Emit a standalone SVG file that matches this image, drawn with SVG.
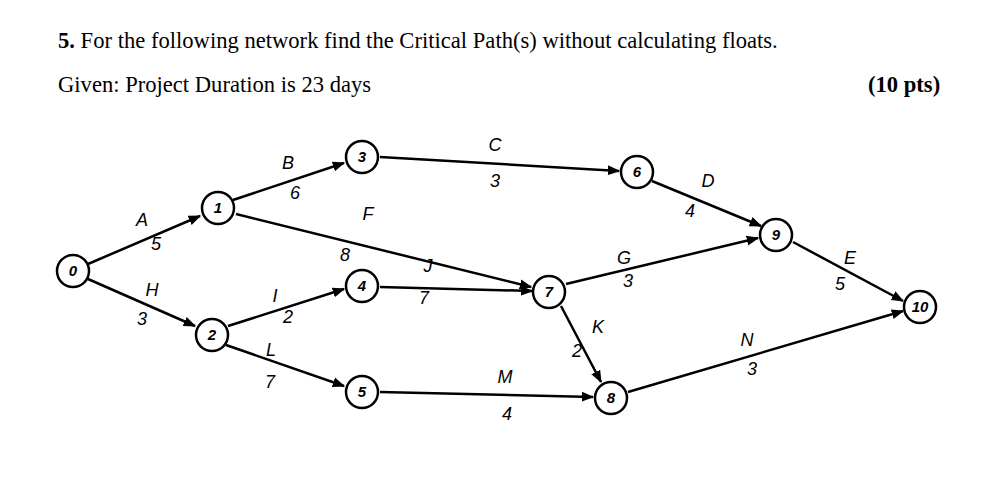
<svg xmlns="http://www.w3.org/2000/svg" width="1005" height="485" viewBox="0 0 1005 485">
<style>
.t{font-family:"Liberation Serif",serif;font-size:22.6px;fill:#000}
.n circle{fill:#fff;stroke:#000;stroke-width:2.5}
.n text{font-family:"Liberation Sans",sans-serif;font-size:15px;font-weight:bold;text-anchor:middle;font-style:italic}
.l{font-family:"Liberation Sans",sans-serif;font-size:18px;font-style:italic;text-anchor:middle}
#edges line{stroke:#000;stroke-width:2.5;marker-end:url(#a)}
</style>
<defs><marker id="a" viewBox="0 0 10 10" refX="9" refY="5" markerWidth="5" markerHeight="5" orient="auto" markerUnits="strokeWidth"><path d="M0,1 L10,5 L0,9 z" fill="#000"/></marker></defs>
<rect width="1005" height="485" fill="#fff"/>
<text class="t" x="58" y="48"><tspan font-weight="bold">5.</tspan> For the following network find the Critical Path(s) without calculating floats.</text>
<text class="t" x="58" y="92">Given: Project Duration is 23 days</text>
<text class="t" x="868" y="92" font-weight="bold">(10 pts)</text>
<g id="edges">
<line x1="88" y1="264" x2="200" y2="216"/>
<line x1="88" y1="279" x2="195" y2="326"/>
<line x1="233" y1="200" x2="344" y2="163"/>
<line x1="236" y1="214" x2="531" y2="287"/>
<line x1="228" y1="326" x2="344" y2="289"/>
<line x1="226" y1="345" x2="344" y2="386"/>
<line x1="380" y1="157" x2="619" y2="171"/>
<line x1="380" y1="287" x2="532" y2="291"/>
<line x1="380" y1="392" x2="593" y2="397"/>
<line x1="566" y1="284" x2="758" y2="238"/>
<line x1="561" y1="306" x2="601" y2="382"/>
<line x1="652" y1="181" x2="761" y2="226"/>
<line x1="793" y1="242" x2="903" y2="301"/>
<line x1="628" y1="392" x2="903" y2="311"/>
</g>
<g id="n0" class="n"><circle cx="73" cy="271" r="16"/><text x="73" y="276">0</text></g>
<g id="n1" class="n"><circle cx="218" cy="208" r="16"/><text x="218" y="213">1</text></g>
<g id="n2" class="n"><circle cx="212" cy="335" r="16"/><text x="212" y="340">2</text></g>
<g id="n3" class="n"><circle cx="362" cy="157" r="16"/><text x="362" y="162">3</text></g>
<g id="n4" class="n"><circle cx="362" cy="286" r="16"/><text x="362" y="291">4</text></g>
<g id="n5" class="n"><circle cx="362" cy="392" r="16"/><text x="362" y="397">5</text></g>
<g id="n6" class="n"><circle cx="637" cy="172" r="16"/><text x="637" y="177">6</text></g>
<g id="n7" class="n"><circle cx="549" cy="292" r="16"/><text x="549" y="297">7</text></g>
<g id="n8" class="n"><circle cx="611" cy="398" r="16"/><text x="611" y="403">8</text></g>
<g id="n9" class="n"><circle cx="776" cy="235" r="16"/><text x="776" y="240">9</text></g>
<g id="n10" class="n"><circle cx="920" cy="307" r="16"/><text x="920" y="312">10</text></g>
<g id="labels">
<text class="l" x="142" y="226">A</text><text class="l" x="156" y="250">5</text>
<text class="l" x="152" y="296">H</text><text class="l" x="142" y="325">3</text>
<text class="l" x="288" y="169">B</text><text class="l" x="295" y="199">6</text>
<text class="l" x="368" y="220">F</text><text class="l" x="345" y="261">8</text>
<text class="l" x="275" y="302">I</text><text class="l" x="288" y="323">2</text>
<text class="l" x="271" y="356">L</text><text class="l" x="270" y="388">7</text>
<text class="l" x="495" y="151">C</text><text class="l" x="495" y="187">3</text>
<text class="l" x="428" y="272">J</text><text class="l" x="424" y="304">7</text>
<text class="l" x="505" y="383">M</text><text class="l" x="507" y="420">4</text>
<text class="l" x="624" y="264">G</text><text class="l" x="628" y="287">3</text>
<text class="l" x="598" y="333">K</text><text class="l" x="577" y="357">2</text>
<text class="l" x="708" y="187">D</text><text class="l" x="690" y="217">4</text>
<text class="l" x="850" y="264">E</text><text class="l" x="840" y="290">5</text>
<text class="l" x="747" y="346">N</text><text class="l" x="752" y="375">3</text>
</g>
</svg>
